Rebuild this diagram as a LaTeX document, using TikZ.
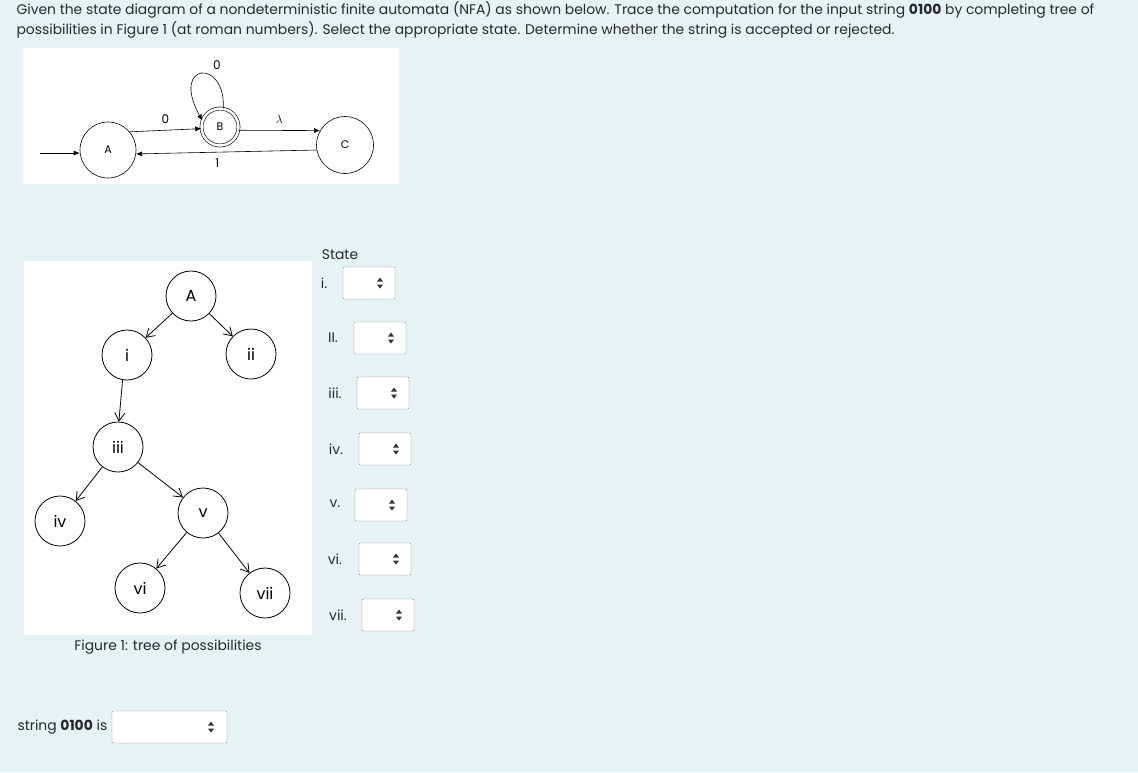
\documentclass[tikz,border=0pt]{standalone}
\usepackage{fontspec}
\setmainfont{Poppins}
\usetikzlibrary{arrows.meta,calc}
\definecolor{bg}{RGB}{231,242,245}
\definecolor{txt}{RGB}{40,40,40}
\tikzset{
 st/.style={circle,draw,semithick,minimum size=56pt,inner sep=0pt,font=\fontsize{11}{11}\selectfont},
 tn/.style={circle,draw,thick,minimum size=50pt,inner sep=0pt,font=\fontsize{16}{16}\selectfont},
 ed/.style={-{Latex[length=6pt,width=5pt]},semithick},
 te/.style={-{Straight Barb[length=8pt,width=10pt]},thick},
 sel/.style={draw=black!45,fill=white,rounded corners=1pt,inner sep=0pt},
 lab/.style={font=\fontsize{12}{12}\selectfont},
 body/.style={font=\fontsize{13.9}{16}\selectfont,text=txt}
}
\newcommand{\updown}[1]{\fill[black!80] ($(#1)+(0,-1.5)$) -- ++(-3,0) -- ++(3,-4) -- ++(3,4) -- cycle;
 \fill[black!80] ($(#1)+(0,1.5)$) -- ++(-3,0) -- ++(3,4) -- ++(3,-4) -- cycle;}
\begin{document}
\begin{tikzpicture}[x=1pt,y=-1pt]
\fill[bg] (0,0) rectangle (1138,772);
\useasboundingbox (0,0) rectangle (1138,772);
\node[body,anchor=west] (h1) at (13,10) {Given the state diagram of a nondeterministic finite automata (NFA) as shown below. Trace the computation for the input string \textbf{0100} by completing tree of};
\node[body,anchor=west] (h2) at (13,30) {possibilities in Figure 1 (at roman numbers). Select the appropriate state. Determine whether the string is accepted or rejected.};
% NFA
\fill[white] (23,48) rectangle (399,184);
\node[st] (A) at (108,150) {A};
\node[circle,draw,semithick,minimum size=37pt,inner sep=0pt,double,double distance=2.5pt,font=\fontsize{11}{11}\selectfont] (B) at (220,127) {B};
\node[st,minimum size=57pt] (C) at (345,145) {C};
\coordinate (s) at (40,153);
\draw[ed] (s) -- (A.west|-s);
\draw[ed] (A.40) -- (B.185) node[lab,midway,above=3pt] {0};
\draw[ed] (B.-10) -- (C.150) node[lab,midway,above=3pt] {$\lambda$};
\draw[ed] (C.-170) -- (A.-8) node[lab,pos=0.55,below=3pt] {1};
\draw[ed] (B.80) .. controls (226,58) and (170,62) .. (B.160);
\node[lab] (l0) at (217,65) {0};
% tree
\fill[white] (24,261) rectangle (312,635);
\node[tn] (tA) at (191,296) {A};
\node[tn] (t1) at (127,355) {i};
\node[tn] (t2) at (251,354) {ii};
\node[tn] (t3) at (118,447) {iii};
\node[tn] (t4) at (60,521) {iv};
\node[tn] (t5) at (203,513) {v};
\node[tn] (t6) at (140,588) {vi};
\node[tn] (t7) at (265,593) {vii};
\draw[te] (tA) -- (t1);
\draw[te] (tA) -- (t2);
\draw[te] (t1.-100) -- (t3.88);
\draw[te] (t3) -- (t4);
\draw[te] (t3) -- (t5);
\draw[te] (t5) -- (t6);
\draw[te] (t5) -- (t7);
\node[body] (cap) at (168,647) {Figure 1: tree of possibilities};
% state column
\node[body] (state) at (340,255) {State};
\foreach \n/\lx/\ly/\bx/\by in {i./324/283/343/267, II./333/338/354/322, iii./335/393/357/377, iv./336/449/359/433, v./335/504/355/489, vi./335/559/359/543, vii./338/615/362/599}{
 \node[body] at (\lx,\ly) {\n};
 \draw[sel] (\bx,\by) rectangle ++(52,32);
 \updown{\bx+37,\by+16}
}
\node[body,anchor=west] (str) at (14,727) {string \textbf{0100} is};
\draw[sel] (112,711) rectangle (227,743);
\updown{211,727}
\end{tikzpicture}
\end{document}
